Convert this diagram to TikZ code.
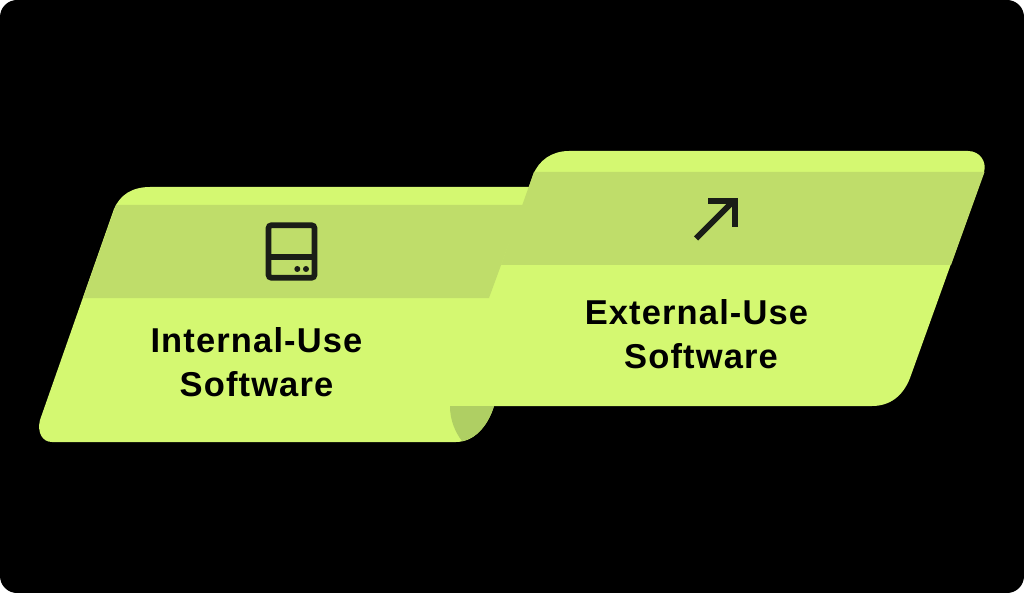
\documentclass[tikz,border=0pt]{standalone}
\usepackage{fontspec}
\setmainfont[LetterSpace=3.3]{Liberation Sans}
\definecolor{lime}{HTML}{D4F871}
\definecolor{limedark}{HTML}{BFDD6A}
\definecolor{limecurl}{HTML}{AFCF63}
\definecolor{ink}{HTML}{1A1D17}
\tikzset{
  label text/.style={text=black,align=center,font=\fontsize{34.5}{44.5}\selectfont\bfseries},
  icon line/.style={draw=ink,line width=5.7pt,line cap=butt,line join=miter},
}
\begin{document}
\begin{tikzpicture}[x=1pt,y=-1pt]
\useasboundingbox (0,0) rectangle (1024,593);
\fill[white] (0,0) rectangle (1024,593);
\fill[black,rounded corners=17pt] (0,0) rectangle (1024,593);
% left sheet
\fill[lime] (150,187) -- (530,187) -- (494,406)
  .. controls (488,426) and (474,442) .. (456,442)
  -- (52,442) .. controls (42,442) and (37,432) .. (40,420)
  -- (114,209) .. controls (120,195) and (132,187) .. (150,187) -- cycle;
% right sheet
\fill[lime] (569,151) -- (968,151)
  .. controls (980,151) and (987,162) .. (984,172)
  -- (910,378) .. controls (903,396) and (890,406) .. (872,406)
  -- (480,406) -- (470,300) -- (529,187)
  -- (533,175) .. controls (539,160) and (552,151) .. (569,151) -- cycle;
% bands
\fill[limedark] (116,205) -- (523,205) -- (489,298) -- (83,298) -- cycle;
\fill[limedark] (534,172) -- (984.5,172) -- (951,265) -- (501,265) -- cycle;
% curl
\fill[limecurl] (450,406) -- (494,406)
  .. controls (488,425) and (476,439) .. (462,441)
  .. controls (455,432) and (450,420) .. (450,406) -- cycle;
% disk icon
\draw[icon line,rounded corners=3pt] (268.5,225.2) rectangle (314.5,277.8);
\draw[icon line] (268.5,257) -- (314.5,257);
\fill[ink] (297.3,269) circle (3);
\fill[ink] (306,269) circle (3);
% arrow icon
\draw[icon line] (696,238.5) -- (734,200.5);
\draw[icon line] (708.3,201.2) -- (734.8,201.2) -- (734.8,227.3);
% text
\node[label text] (internal) at (256.5,362) {Internal-Use\\Software};
\node[label text] (external) at (696.5,334) {External-Use\\\hspace{9pt}Software};
\end{tikzpicture}
\end{document}
